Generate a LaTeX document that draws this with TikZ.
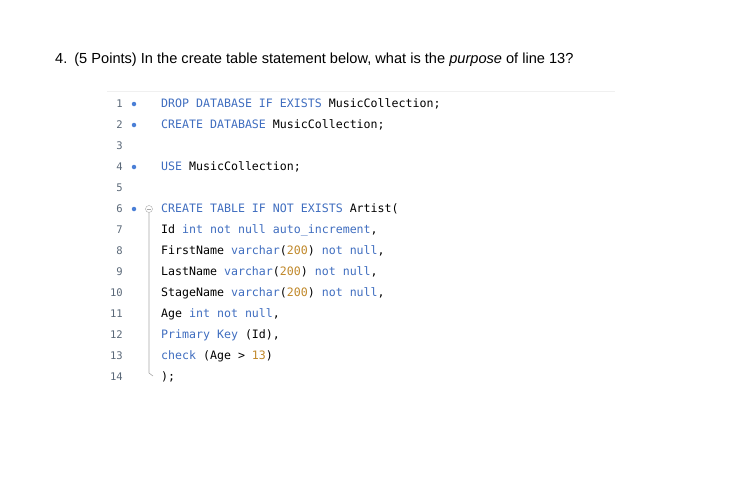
\documentclass[tikz,border=0pt]{standalone}
\usepackage{fontspec}
\setmainfont{Liberation Sans}
\setmonofont{DejaVu Sans Mono}
\definecolor{kw}{HTML}{3F6DBF}
\definecolor{num}{HTML}{C0882A}
\definecolor{ln}{HTML}{5A6878}
\definecolor{dot}{HTML}{4A7FD6}
\newcommand{\K}[1]{\textcolor{kw}{#1}}
\newcommand{\N}[1]{\textcolor{num}{#1}}
\begin{document}
\begin{tikzpicture}[x=1pt,y=-1pt,
  code/.style={anchor=west,inner sep=0pt,font=\ttfamily\fontsize{11.6}{13}\selectfont},
  lnum/.style={anchor=east,inner sep=0pt,text=ln,font=\ttfamily\fontsize{10.5}{12}\selectfont},
  bp/.style={circle,fill=dot,inner sep=0pt,minimum size=4.5pt}]
\useasboundingbox (0,0) rectangle (747,483);
\node[anchor=west,inner sep=0pt,font=\fontsize{14.6}{17}\selectfont] (title) at (55,60) {4.\hspace{7pt}(5 Points) In the create table statement below, what is the \textit{purpose} of line 13?};
\draw[gray!12,line width=0.8pt] (107,91) -- (615,91);
\foreach \n/\y in {1/104,2/125,3/146,4/167,5/188,6/209,7/230,8/251,9/272,10/293,11/314,12/335,13/356,14/377}
  \node[lnum] (l\n) at (123,\y) {\n};
\foreach \n/\y in {1/104,2/125,4/167,6/209}
  \node[bp] (b\n) at (134,\y) {};
\node[circle,draw=gray!70,inner sep=0pt,minimum size=7pt] (fold) at (149,209) {};
\draw[gray!70,line width=0.5pt] (fold.center)+(-2,0) -- +(2,0);
\draw[gray!70,line width=0.6pt] (fold.south) -- (149,373) -- (153,376);
\node[code] (c1) at (161,104) {\K{DROP DATABASE IF EXISTS} MusicCollection;};
\node[code] (c2) at (161,125) {\K{CREATE DATABASE} MusicCollection;};
\node[code] (c4) at (161,167) {\K{USE} MusicCollection;};
\node[code] (c6) at (161,209) {\K{CREATE TABLE IF NOT EXISTS} Artist(};
\node[code] (c7) at (161,230) {Id \K{int not null auto\_increment},};
\node[code] (c8) at (161,251) {FirstName \K{varchar}(\N{200}) \K{not null},};
\node[code] (c9) at (161,272) {LastName \K{varchar}(\N{200}) \K{not null},};
\node[code] (c10) at (161,293) {StageName \K{varchar}(\N{200}) \K{not null},};
\node[code] (c11) at (161,314) {Age \K{int not null},};
\node[code] (c12) at (161,335) {\K{Primary Key} (Id),};
\node[code] (c13) at (161,356) {\K{check} (Age > \N{13})};
\node[code] (c14) at (161,377) {);};
\end{tikzpicture}
\end{document}
